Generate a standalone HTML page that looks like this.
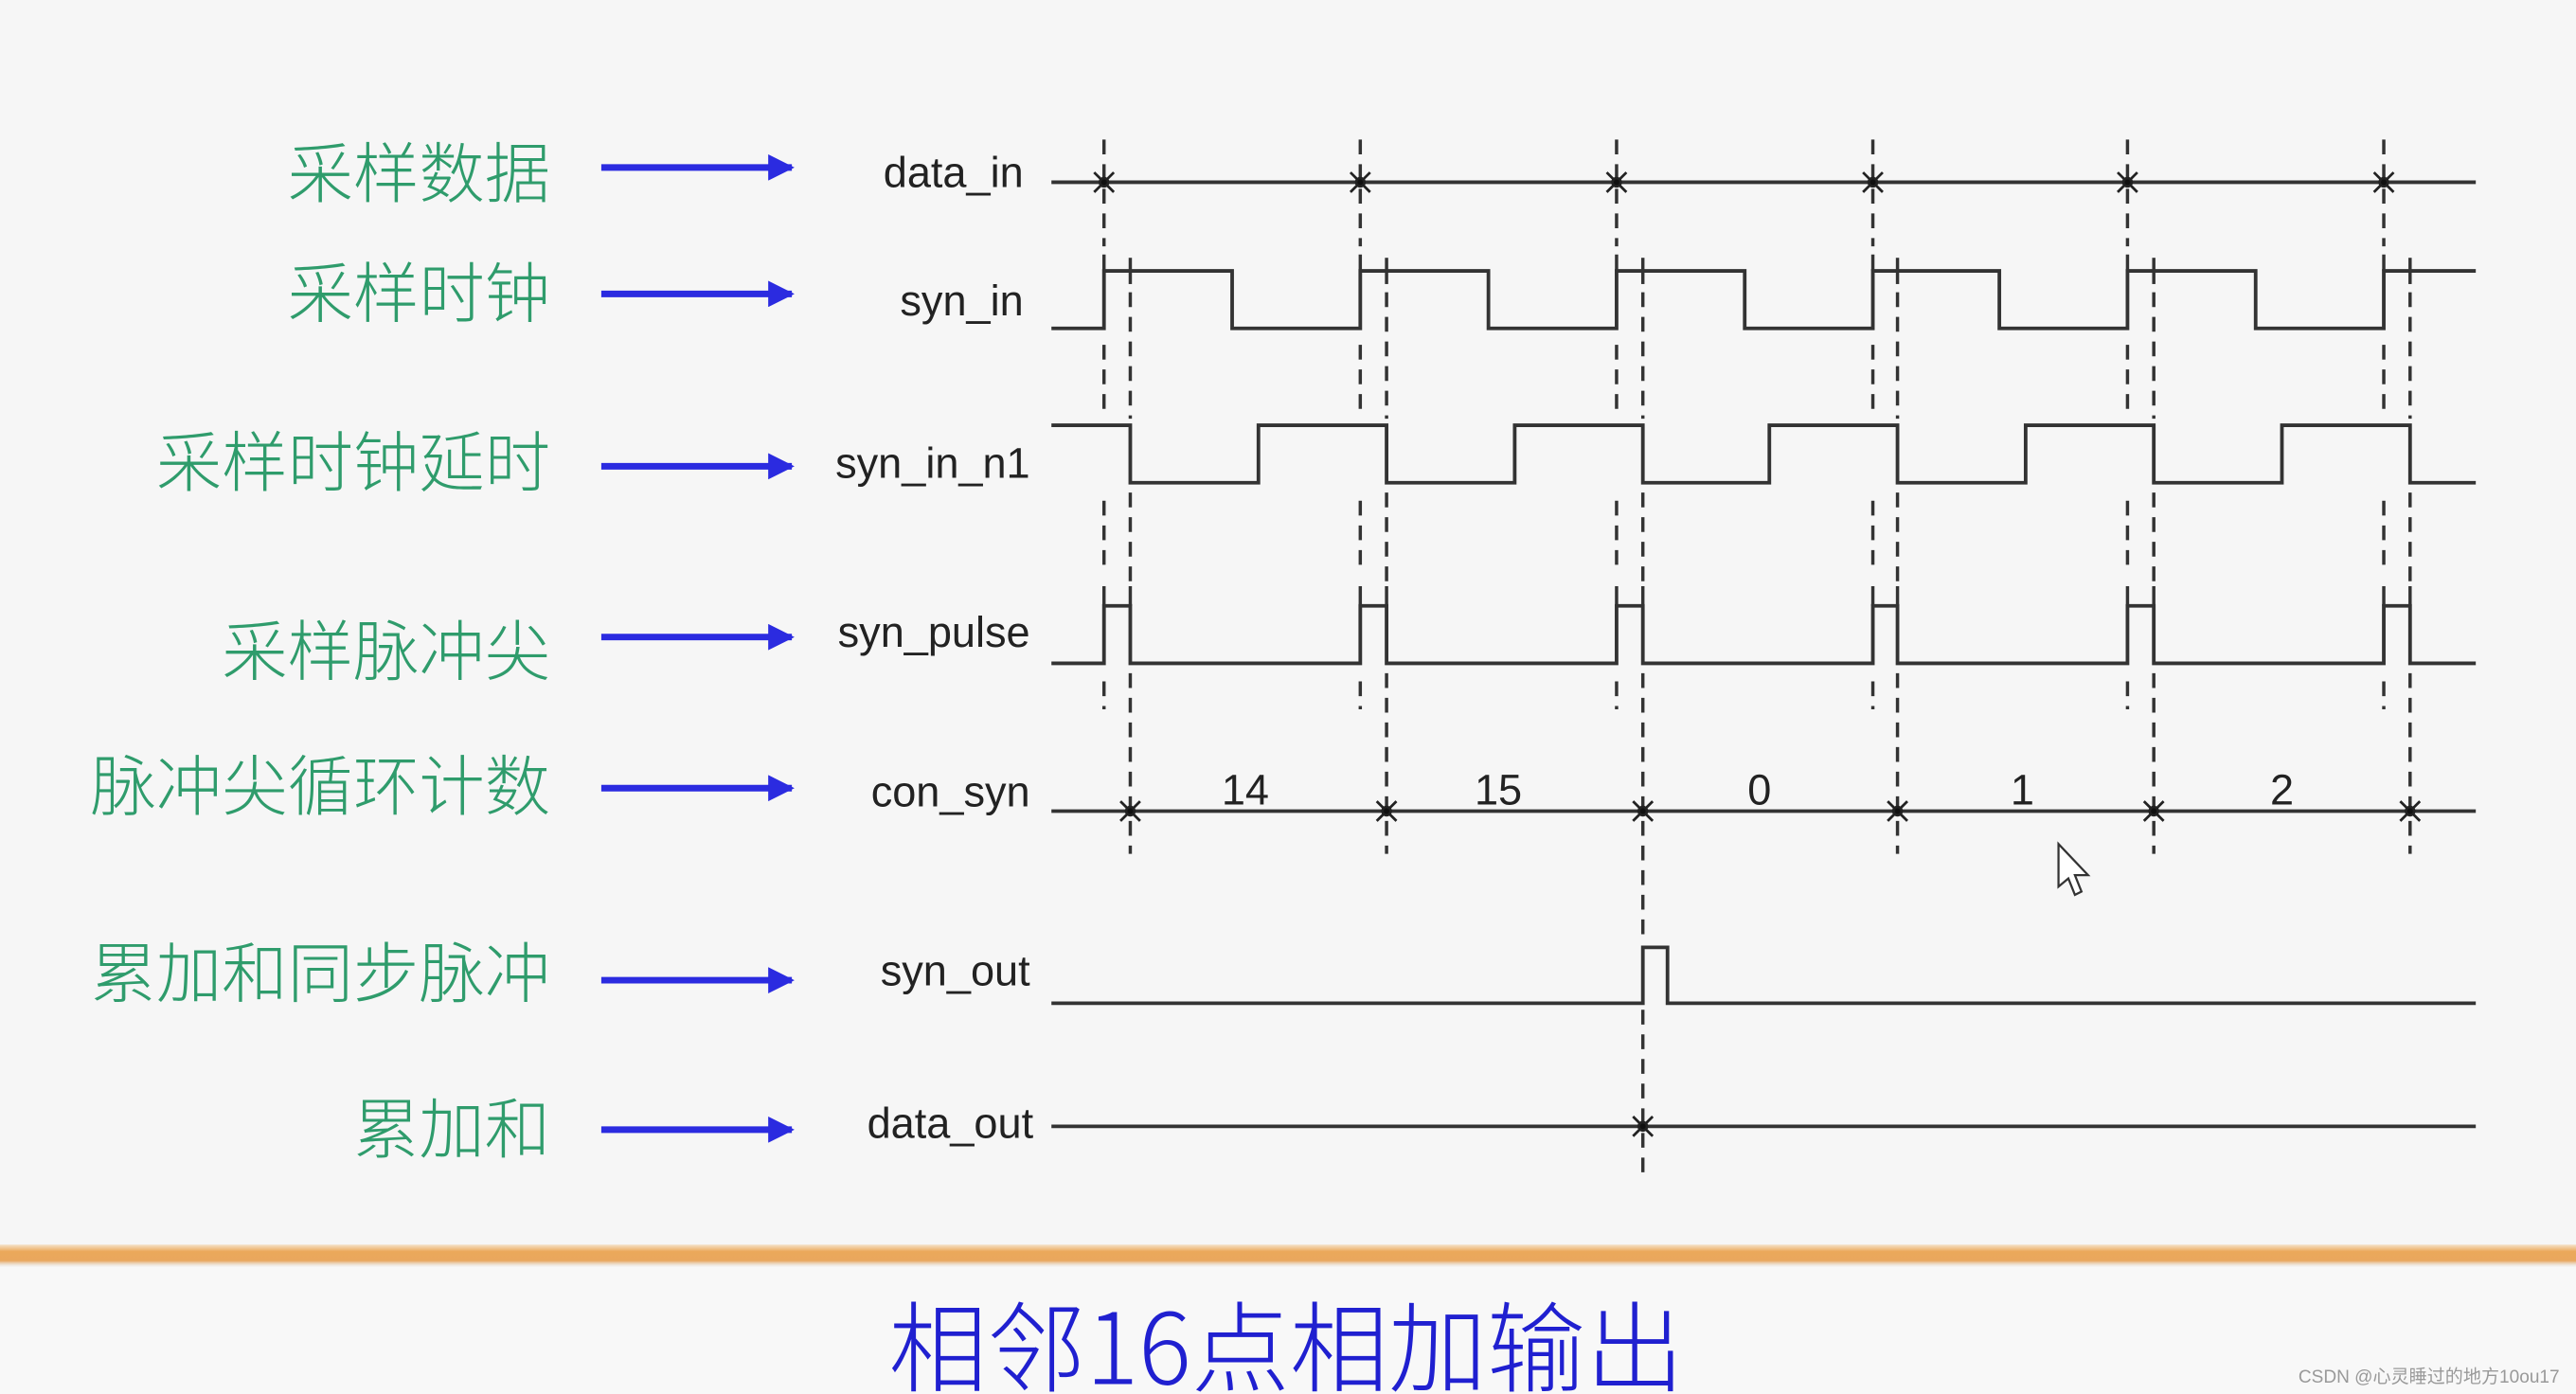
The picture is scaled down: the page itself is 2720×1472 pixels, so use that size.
<!DOCTYPE html>
<html><head><meta charset="utf-8"><style>
html,body{margin:0;padding:0;background:#f6f6f6;}
svg{display:block;}
</style></head><body>
<svg width="2720" height="1472" viewBox="0 0 1568 849" preserveAspectRatio="none" xmlns="http://www.w3.org/2000/svg">
<defs>
<linearGradient id="og" x1="0" y1="0" x2="0" y2="1">
<stop offset="0" stop-color="#f0b060" stop-opacity="0.3"/>
<stop offset="0.3" stop-color="#eba85a"/>
<stop offset="0.7" stop-color="#e9a75e"/>
<stop offset="1" stop-color="#dddddd" stop-opacity="0"/>
</linearGradient>
<marker id="ah" viewBox="0 0 10 10" refX="9" refY="5" markerWidth="4" markerHeight="4" orient="auto" markerUnits="strokeWidth"><path d="M0,0 L10,5 L0,10z" fill="#2b2be0"/></marker>
</defs>
<rect x="0" y="0" width="1568" height="849" fill="#f6f6f6"/>
<rect x="0" y="770" width="1568" height="79" fill="#f8f8f8"/>
<rect x="0" y="758" width="1568" height="14" fill="url(#og)"/>

<g font-family="'Noto Sans CJK SC','WenQuanYi Zen Hei',sans-serif" font-size="40" font-weight="300" fill="#2f9c6c" text-anchor="end">
<text x="335" y="120">采样数据</text>
<text x="335" y="193">采样时钟</text>
<text x="335" y="296">采样时钟延时</text>
<text x="335" y="411">采样脉冲尖</text>
<text x="335" y="493">脉冲尖循环计数</text>
<text x="335" y="607">累加和同步脉冲</text>
<text x="335" y="702">累加和</text>
</g>
<g stroke="#2b2be0" stroke-width="4" marker-end="url(#ah)">
<line x1="366" y1="102" x2="482" y2="102"/>
<line x1="366" y1="179" x2="482" y2="179"/>
<line x1="366" y1="284" x2="482" y2="284"/>
<line x1="366" y1="388" x2="482" y2="388"/>
<line x1="366" y1="480" x2="482" y2="480"/>
<line x1="366" y1="597" x2="482" y2="597"/>
<line x1="366" y1="688" x2="482" y2="688"/>
</g>
<g font-family="'Liberation Sans',sans-serif" font-size="26" fill="#222" text-anchor="end">
<text x="623" y="114">data_in</text>
<text x="623" y="192">syn_in</text>
<text x="627" y="291">syn_in_n1</text>
<text x="627" y="394">syn_pulse</text>
<text x="627" y="491">con_syn</text>
<text x="627" y="600">syn_out</text>
<text x="629" y="693">data_out</text>
</g>

<g fill="none" stroke="#333" stroke-width="2.2">
<line x1="640" y1="111" x2="1507" y2="111"/>
<path d="M640,200 H672 V165 H750 V200 H828 V165 H906 V200 H984 V165 H1062 V200 H1140 V165 H1217 V200 H1295 V165 H1373 V200 H1451 V165 H1507"/>
<path d="M640,259 H688 V294 H766 V259 H844 V294 H922 V259 H1000 V294 H1077 V259 H1155 V294 H1233 V259 H1311 V294 H1389 V259 H1467 V294 H1507"/>
<path d="M640,404 H672 V369 H688 V404 H828 V369 H844 V404 H984 V369 H1000 V404 H1140 V369 H1155 V404 H1295 V369 H1311 V404 H1451 V369 H1467 V404 H1507"/>
<line x1="640" y1="494" x2="1507" y2="494"/>
<path d="M640,611 H1000 V577 H1015 V611 H1507"/>
<line x1="640" y1="686" x2="1507" y2="686"/>
</g>
<g stroke="#333" stroke-width="2">
<line x1="672" y1="155" x2="672" y2="165"/><line x1="828" y1="155" x2="828" y2="165"/><line x1="984" y1="155" x2="984" y2="165"/><line x1="1140" y1="155" x2="1140" y2="165"/><line x1="1295" y1="155" x2="1295" y2="165"/><line x1="1451" y1="155" x2="1451" y2="165"/>
<line x1="688" y1="157" x2="688" y2="173"/><line x1="844" y1="157" x2="844" y2="173"/><line x1="1000" y1="157" x2="1000" y2="173"/><line x1="1155" y1="157" x2="1155" y2="173"/><line x1="1311" y1="157" x2="1311" y2="173"/><line x1="1467" y1="157" x2="1467" y2="173"/>
<line x1="672" y1="357" x2="672" y2="369"/><line x1="688" y1="357" x2="688" y2="369"/>
<line x1="828" y1="357" x2="828" y2="369"/><line x1="844" y1="357" x2="844" y2="369"/>
<line x1="984" y1="357" x2="984" y2="369"/><line x1="1000" y1="357" x2="1000" y2="369"/>
<line x1="1140" y1="357" x2="1140" y2="369"/><line x1="1155" y1="357" x2="1155" y2="369"/>
<line x1="1295" y1="357" x2="1295" y2="369"/><line x1="1311" y1="357" x2="1311" y2="369"/>
<line x1="1451" y1="357" x2="1451" y2="369"/><line x1="1467" y1="357" x2="1467" y2="369"/>
</g>
<g stroke="#333" stroke-width="2" stroke-dasharray="9,6">
<line x1="672" y1="85" x2="672" y2="150"/><line x1="828" y1="85" x2="828" y2="150"/><line x1="984" y1="85" x2="984" y2="150"/><line x1="1140" y1="85" x2="1140" y2="150"/><line x1="1295" y1="85" x2="1295" y2="150"/><line x1="1451" y1="85" x2="1451" y2="150"/>
<line x1="672" y1="210" x2="672" y2="255"/><line x1="828" y1="210" x2="828" y2="255"/><line x1="984" y1="210" x2="984" y2="255"/><line x1="1140" y1="210" x2="1140" y2="255"/><line x1="1295" y1="210" x2="1295" y2="255"/><line x1="1451" y1="210" x2="1451" y2="255"/>
<line x1="672" y1="305" x2="672" y2="350"/><line x1="828" y1="305" x2="828" y2="350"/><line x1="984" y1="305" x2="984" y2="350"/><line x1="1140" y1="305" x2="1140" y2="350"/><line x1="1295" y1="305" x2="1295" y2="350"/><line x1="1451" y1="305" x2="1451" y2="350"/>
<line x1="672" y1="415" x2="672" y2="432"/><line x1="828" y1="415" x2="828" y2="432"/><line x1="984" y1="415" x2="984" y2="432"/><line x1="1140" y1="415" x2="1140" y2="432"/><line x1="1295" y1="415" x2="1295" y2="432"/><line x1="1451" y1="415" x2="1451" y2="432"/>
<line x1="688" y1="178" x2="688" y2="255"/><line x1="844" y1="178" x2="844" y2="255"/><line x1="1000" y1="178" x2="1000" y2="255"/><line x1="1155" y1="178" x2="1155" y2="255"/><line x1="1311" y1="178" x2="1311" y2="255"/><line x1="1467" y1="178" x2="1467" y2="255"/>
<line x1="688" y1="300" x2="688" y2="355"/><line x1="844" y1="300" x2="844" y2="355"/><line x1="1000" y1="300" x2="1000" y2="355"/><line x1="1155" y1="300" x2="1155" y2="355"/><line x1="1311" y1="300" x2="1311" y2="355"/><line x1="1467" y1="300" x2="1467" y2="355"/>
<line x1="688" y1="410" x2="688" y2="520"/><line x1="844" y1="410" x2="844" y2="520"/><line x1="1000" y1="410" x2="1000" y2="575"/><line x1="1155" y1="410" x2="1155" y2="520"/><line x1="1311" y1="410" x2="1311" y2="520"/><line x1="1467" y1="410" x2="1467" y2="520"/>
<line x1="1000" y1="615" x2="1000" y2="715"/>
</g>
<g stroke="#222" stroke-width="1.6" fill="#111">
<g transform="translate(672,111)"><line x1="-6" y1="-6" x2="6" y2="6"/><line x1="-6" y1="6" x2="6" y2="-6"/><circle r="2.5"/></g>
<g transform="translate(828,111)"><line x1="-6" y1="-6" x2="6" y2="6"/><line x1="-6" y1="6" x2="6" y2="-6"/><circle r="2.5"/></g>
<g transform="translate(984,111)"><line x1="-6" y1="-6" x2="6" y2="6"/><line x1="-6" y1="6" x2="6" y2="-6"/><circle r="2.5"/></g>
<g transform="translate(1140,111)"><line x1="-6" y1="-6" x2="6" y2="6"/><line x1="-6" y1="6" x2="6" y2="-6"/><circle r="2.5"/></g>
<g transform="translate(1295,111)"><line x1="-6" y1="-6" x2="6" y2="6"/><line x1="-6" y1="6" x2="6" y2="-6"/><circle r="2.5"/></g>
<g transform="translate(1451,111)"><line x1="-6" y1="-6" x2="6" y2="6"/><line x1="-6" y1="6" x2="6" y2="-6"/><circle r="2.5"/></g>
<g transform="translate(688,494)"><line x1="-6" y1="-6" x2="6" y2="6"/><line x1="-6" y1="6" x2="6" y2="-6"/><circle r="2.5"/></g>
<g transform="translate(844,494)"><line x1="-6" y1="-6" x2="6" y2="6"/><line x1="-6" y1="6" x2="6" y2="-6"/><circle r="2.5"/></g>
<g transform="translate(1000,494)"><line x1="-6" y1="-6" x2="6" y2="6"/><line x1="-6" y1="6" x2="6" y2="-6"/><circle r="2.5"/></g>
<g transform="translate(1155,494)"><line x1="-6" y1="-6" x2="6" y2="6"/><line x1="-6" y1="6" x2="6" y2="-6"/><circle r="2.5"/></g>
<g transform="translate(1311,494)"><line x1="-6" y1="-6" x2="6" y2="6"/><line x1="-6" y1="6" x2="6" y2="-6"/><circle r="2.5"/></g>
<g transform="translate(1467,494)"><line x1="-6" y1="-6" x2="6" y2="6"/><line x1="-6" y1="6" x2="6" y2="-6"/><circle r="2.5"/></g>
<g transform="translate(1000,686)"><line x1="-6" y1="-6" x2="6" y2="6"/><line x1="-6" y1="6" x2="6" y2="-6"/><circle r="2.5"/></g>
</g>
<g font-family="'Liberation Sans',sans-serif" font-size="26" fill="#222" text-anchor="middle">
<text x="758" y="490">14</text><text x="912" y="490">15</text><text x="1071" y="490">0</text><text x="1231" y="490">1</text><text x="1389" y="490">2</text>
</g>
<path d="M1253,514 L1253,540 L1259,535 L1263,545 L1267,543 L1263,533 L1271,533 Z" fill="#fff" stroke="#333" stroke-width="1.3"/>
<text x="783" y="843" text-anchor="middle" font-family="'Noto Sans CJK SC','WenQuanYi Zen Hei',sans-serif" font-size="60" font-weight="300" fill="#2020d0">相邻16点相加输出</text>
<text x="1558" y="842" text-anchor="end" font-family="'Liberation Sans','Noto Sans CJK SC',sans-serif" font-size="11" fill="#999">CSDN @心灵睡过的地方10ou17</text>
</svg>
</body></html>
